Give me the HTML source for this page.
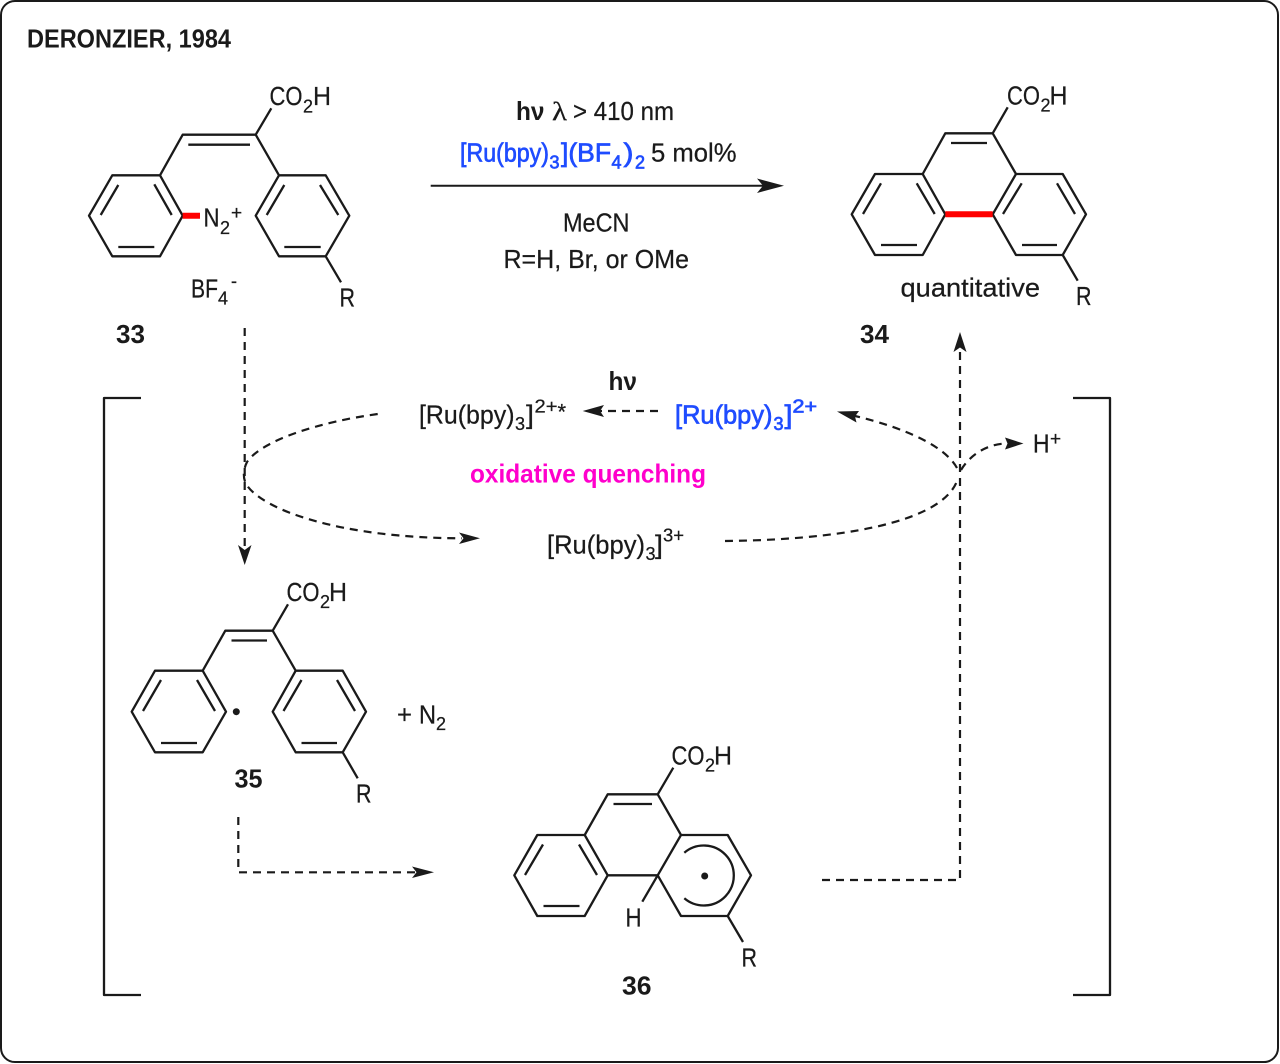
<!DOCTYPE html>
<html><head><meta charset="utf-8"><style>
html,body{margin:0;padding:0;background:#fff;width:1280px;height:1064px;overflow:hidden}
svg{display:block}
text{font-family:"Liberation Sans",sans-serif;font-size:26px;fill:#1a1a1a;stroke:#1a1a1a;stroke-width:.25}
.s{font-size:18px}
.b{font-weight:bold;stroke:none}
.blue{fill:#1f4cff;stroke:#1f4cff;stroke-width:.7}
.l{fill:none;stroke:#1a1a1a;stroke-width:2.3;stroke-linejoin:round;stroke-linecap:butt}
.d{fill:none;stroke:#1a1a1a;stroke-width:2.2;stroke-dasharray:8 6}
.h{fill:#1a1a1a;stroke:none}
</style></head><body>
<svg width="1280" height="1064" viewBox="0 0 1280 1064" xmlns="http://www.w3.org/2000/svg">
<rect x="1" y="1" width="1277" height="1061" rx="14" fill="#fff" stroke="#1a1a1a" stroke-width="2"/>
<text x="27" y="47.500" class="b" textLength="204" lengthAdjust="spacingAndGlyphs">DERONZIER, 1984</text>

<!-- 33 -->
<path class="l" d="M89 215.700L112.300 175.300H160L182.700 215.700L160 256.300H112.300ZM160 175.300L182.700 134.700H255.700L279 175.300H325.700L349.300 215.700L325.700 256.300H279L255.700 215.700L279 175.300M255.700 134.700L271.300 108.300M325.700 256.300L341 282.300M154.300 184.300L171.700 215M118.300 185L100.700 215M118.300 247H154.300M284.300 185L266.700 215M320 185L338.300 215M284.300 247H320.700M188.300 144.700H250"/>
<path d="M182.700 215.700H200" stroke="#f00" stroke-width="6" fill="none"/>
<text x="269.500" y="105" textLength="33" lengthAdjust="spacingAndGlyphs">CO</text><text x="303" y="112.500" class="s">2</text><text x="313" y="105" textLength="18" lengthAdjust="spacingAndGlyphs">H</text>
<text x="203.500" y="226.700" textLength="16" lengthAdjust="spacingAndGlyphs">N</text><text x="220" y="234" class="s">2</text><text x="231" y="219" class="s" style="font-size:19px">+</text>
<text x="191" y="297.700" textLength="27" lengthAdjust="spacingAndGlyphs">BF</text><text x="218" y="304.500" class="s">4</text><text x="231" y="287" class="s">-</text>
<text x="339.500" y="306.700" textLength="15.500" lengthAdjust="spacingAndGlyphs">R</text>
<text x="116" y="343" class="b" textLength="29" lengthAdjust="spacingAndGlyphs">33</text>

<!-- main arrow -->
<path d="M430.700 185.700H765" stroke="#1a1a1a" stroke-width="2" fill="none"/>
<path class="h" d="M784 185.700L757 178.500L763 185.700L757 193Z"/>
<text x="516" y="120" class="b" textLength="28.500" lengthAdjust="spacingAndGlyphs">hν</text>
<text x="552" y="120" style="font-family:'Liberation Serif',serif" textLength="15" lengthAdjust="spacingAndGlyphs">λ</text>
<text x="573" y="120" textLength="101" lengthAdjust="spacingAndGlyphs">&gt; 410 nm</text>
<text x="460" y="161.700" class="blue" textLength="89" lengthAdjust="spacingAndGlyphs">[Ru(bpy)</text><text x="549.500" y="168.500" class="blue s">3</text><text x="561" y="161.700" class="blue" textLength="50" lengthAdjust="spacingAndGlyphs">](BF</text><text x="611.500" y="168.500" class="blue s">4</text><text x="623.500" y="161.700" class="blue" textLength="10" lengthAdjust="spacingAndGlyphs">)</text><text x="635" y="168.500" class="blue s">2</text>
<text x="651" y="161.700" textLength="85.500" lengthAdjust="spacingAndGlyphs">5 mol%</text>
<text x="563" y="231.700" textLength="66.500" lengthAdjust="spacingAndGlyphs">MeCN</text>
<text x="503.500" y="268" textLength="185.500" lengthAdjust="spacingAndGlyphs">R=H, Br, or OMe</text>

<!-- 34 -->
<path class="l" d="M851.700 214.300L875 174H922.700L945.300 214.300L922.700 255H875ZM922.700 174L945.300 133.300H992.700L1016 174H1062.700L1086 214.300L1062.700 255H1016L992.700 214.300L1016 174M992.700 133.300L1007.700 107.300M1062.700 255L1077.700 280.700M916.700 183.300L934.700 214M881 183.300L863 214M881 245H917M1021.700 183.300L1003 214M1057 183.300L1075 214M1022 245H1057M951 143H987"/>
<path d="M945.300 214.300H992.700" stroke="#f00" stroke-width="6" fill="none"/>
<text x="1007" y="104.300" textLength="33" lengthAdjust="spacingAndGlyphs">CO</text><text x="1040.500" y="111.500" class="s">2</text><text x="1049.500" y="104.300" textLength="18" lengthAdjust="spacingAndGlyphs">H</text>
<text x="900.500" y="296.700" textLength="139.500" lengthAdjust="spacingAndGlyphs">quantitative</text>
<text x="1076" y="305" textLength="15.500" lengthAdjust="spacingAndGlyphs">R</text>
<text x="860" y="343" class="b" textLength="29" lengthAdjust="spacingAndGlyphs">34</text>

<!-- brackets -->
<path class="l" d="M141 398H104V995H141M1073 398H1110V995H1073"/>

<!-- dashed -->
<path class="d" d="M244.700 328V548"/>
<path class="h" d="M244.700 565L238 545L244.700 550L251.500 545Z"/>
<path class="d" d="M377.700 414C320 422 262 440 247 462C243 470 243 478 246 484C262 510 340 538 462 538.300"/>
<path class="h" d="M480 538.300L459 532.500L463.500 538.300L459 544Z"/>
<path class="d" d="M658 411H600"/>
<path class="h" d="M582.700 411L604 405L600 411L604 417Z"/>
<path class="d" d="M957 468C945 446 905 428 855 416"/>
<path class="h" d="M837 411.500L859 411L855 416.500L856.500 422.500Z"/>
<path class="d" d="M725 541C830 540 945 525 958 478"/>
<path class="d" d="M961 470C972 452 990 444 1006 443.500"/>
<path class="h" d="M1023.500 443.500L1005 437.500L1007.500 443.500L1005 449.500Z"/>
<path class="d" d="M822 880H960V348"/>
<path class="h" d="M960 332L953.500 352L960 347.500L966.500 352Z"/>
<path class="d" d="M238.300 817V872.300H416"/>
<path class="h" d="M434 872.300L412 866.500L416.500 872.300L412 878Z"/>

<text x="608.500" y="390" class="b" textLength="28.500" lengthAdjust="spacingAndGlyphs">hν</text>
<text x="419" y="423.300" textLength="95.500" lengthAdjust="spacingAndGlyphs">[Ru(bpy)</text><text x="515" y="430" class="s">3</text><text x="526" y="423.300" textLength="8" lengthAdjust="spacingAndGlyphs">]</text><text x="534.500" y="412.500" class="s" textLength="23" lengthAdjust="spacingAndGlyphs">2+</text><text x="557.500" y="419.500" style="font-size:22px">*</text>
<text x="675" y="423.300" class="blue" textLength="97.500" lengthAdjust="spacingAndGlyphs">[Ru(bpy)</text><text x="773.500" y="430" class="blue s">3</text><text x="784.500" y="423.300" class="blue" textLength="8" lengthAdjust="spacingAndGlyphs">]</text><text x="792.500" y="412.500" class="blue s" textLength="24.500" lengthAdjust="spacingAndGlyphs">2+</text>
<text x="470" y="482.700" class="b" style="fill:#ff00cc" textLength="236" lengthAdjust="spacingAndGlyphs">oxidative quenching</text>
<text x="547" y="553.300" textLength="98" lengthAdjust="spacingAndGlyphs">[Ru(bpy)</text><text x="645.500" y="560" class="s">3</text><text x="655" y="553.300" textLength="8" lengthAdjust="spacingAndGlyphs">]</text><text x="663" y="541.500" class="s" textLength="21" lengthAdjust="spacingAndGlyphs">3+</text>
<text x="1033" y="452.700" textLength="16.500" lengthAdjust="spacingAndGlyphs">H</text><text x="1050" y="445" class="s" style="font-size:19px">+</text>

<!-- 35 -->
<path class="l" d="M131.700 711.700L155 670.700H202.700L226 711.700L202.700 752.300H155ZM202.700 670.700L225.300 630.700H272.700L295.700 670.700H342.700L366 711.700L342.700 752.300H295.700L272.700 711.700L295.700 670.700M272.700 630.700L288 604.300M342.700 752.300L357.700 778.300M197 680L215 711M161 680L143 711M161 743H197M301.500 680L283.500 711M337 680L355 711M301.500 743H337M231.500 640.500H267"/>
<circle cx="236.300" cy="711.700" r="3.500" fill="#1a1a1a"/>
<text x="286.500" y="601" textLength="33" lengthAdjust="spacingAndGlyphs">CO</text><text x="320" y="608" class="s">2</text><text x="329" y="601" textLength="18" lengthAdjust="spacingAndGlyphs">H</text>
<text x="356" y="802.700" textLength="15.500" lengthAdjust="spacingAndGlyphs">R</text>
<text x="397" y="723.300" textLength="15" lengthAdjust="spacingAndGlyphs">+</text><text x="419" y="723.300" textLength="17" lengthAdjust="spacingAndGlyphs">N</text><text x="436" y="730" class="s">2</text>
<text x="234.500" y="787.700" class="b" textLength="28" lengthAdjust="spacingAndGlyphs">35</text>

<!-- 36 -->
<path class="l" d="M514.300 875.300L537.300 835H584.700L607.700 875.300L584.700 916H537.300ZM584.700 835L607.700 794.300H657.700L681 835H727.700L751 875.300L727.700 916H681L657.700 875.300L681 835M607.700 875.300H657.700M657.700 794.300L673.300 767.700M657.700 875.300L642.300 901.700M727.700 916L743 942M579 844.500L597 875M543 844.500L525 875M543.500 906H579.500M613.500 804H652M684.300 852.700A30 30 0 1 1 684.300 898.300"/>
<circle cx="704.700" cy="876" r="3.500" fill="#1a1a1a"/>
<text x="671.500" y="764.300" textLength="33" lengthAdjust="spacingAndGlyphs">CO</text><text x="705" y="771.500" class="s">2</text><text x="714" y="764.300" textLength="18" lengthAdjust="spacingAndGlyphs">H</text>
<text x="625.500" y="926.700" textLength="16" lengthAdjust="spacingAndGlyphs">H</text>
<text x="741.500" y="966.700" textLength="15.500" lengthAdjust="spacingAndGlyphs">R</text>
<text x="622" y="994.300" class="b" textLength="29.500" lengthAdjust="spacingAndGlyphs">36</text>
</svg>
</body></html>
